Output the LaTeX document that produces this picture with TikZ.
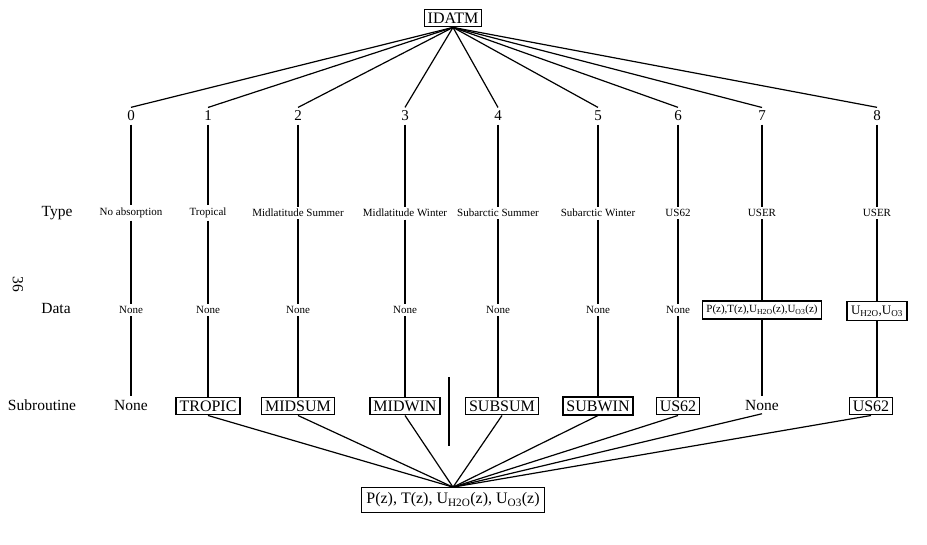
\documentclass[tikz,border=0pt]{standalone}
\usepackage{fontspec}
\setmainfont{Liberation Serif}
\begin{document}
\begin{tikzpicture}[x=1pt,y=-1pt,line width=1.2pt,
  bx/.style={draw,inner sep=3.5pt,font=\fontsize{16}{18}\selectfont},
  sm/.style={inner sep=2pt,font=\fontsize{11}{13}\selectfont},
  num/.style={inner sep=3pt,font=\fontsize{15}{17}\selectfont},
  lab/.style={inner sep=0pt,font=\fontsize{15.5}{18}\selectfont}]
\useasboundingbox (0,0) rectangle (927,544);
\node[bx] (top) at (453,18) {IDATM};
\node[lab] at (57,213) {Type};
\node[lab] at (56,308) {Data};
\node[lab] at (42,405) {Subroutine};
\node[lab,rotate=-90] at (18,284) {36};
\foreach \i/\x/\t/\d in {0/131/No absorption/None,1/208/Tropical/None,2/298/Midlatitude Summer/None,3/405/Midlatitude Winter/None,4/498/Subarctic Summer/None,5/598/Subarctic Winter/None,6/678/US62/None,7/762/USER/{},8/877/USER/{}}{
  \node[num] (n\i) at (\x,116) {\i};
  \node[sm] (t\i) at (\x,213) {\t};
  \draw (top.south) -- (n\i.north);
  \draw (n\i) -- (t\i);
}
\foreach \i/\x in {0/131,1/208,2/298,3/405,4/498,5/598,6/678}{
  \node[sm] (d\i) at (\x,310) {None};
}
\node[draw,inner sep=4pt,font=\fontsize{11}{13}\selectfont] (d7) at (762,310) {P(z),T(z),U$_{\mathrm{H2O}}$(z),U$_{\mathrm{O3}}$(z)};
\node[draw,inner sep=4pt,font=\fontsize{13}{15}\selectfont] (d8) at (877,311) {U$_{\mathrm{H2O}}$,U$_{\mathrm{O3}}$};
\node[lab,inner sep=3pt] (s0) at (131,405) {None};
\node[bx] (s1) at (208,406) {TROPIC};
\node[bx] (s2) at (298,406) {MIDSUM};
\node[bx] (s3) at (405,406) {MIDWIN};
\node[bx] (s4) at (502,406) {SUBSUM};
\node[bx] (s5) at (598,406) {SUBWIN};
\node[bx] (s6) at (678,406) {US62};
\node[lab,inner sep=3pt] (s7) at (762,405) {None};
\node[bx] (s8) at (871,406) {US62};
\foreach \i in {0,...,8}{ \draw (t\i) -- (d\i); }
\foreach \i/\x in {0/131,1/208,2/298,3/405,4/498,5/598,6/678,7/762,8/877}{ \draw (d\i) -- (s\i.north -| d\i); }
\node[bx,inner sep=5pt] (out) at (453,500) {P(z), T(z), U$_{\mathrm{H2O}}$(z), U$_{\mathrm{O3}}$(z)};
\foreach \i in {1,...,8}{ \draw (s\i.south) -- (out.north); }
\coordinate (v1) at (449,377); \coordinate (v2) at (449,446);
\draw (v1) -- (v2);
\end{tikzpicture}
\end{document}
